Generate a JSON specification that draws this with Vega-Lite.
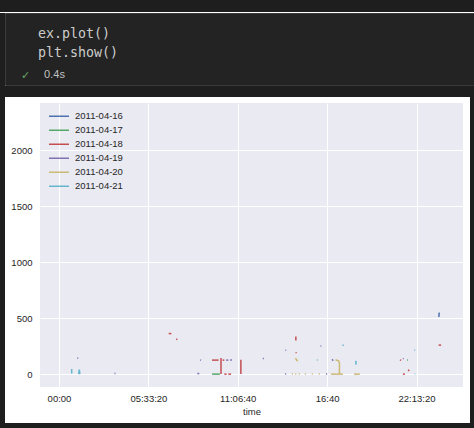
{
  "$schema": "https://vega.github.io/schema/vega-lite/v6.json",
  "background": "white",
  "padding": 0,
  "spacing": 0,
  "bounds": "full",
  "config": {
    "view": {"stroke": null},
    "concat": {"spacing": 0},
    "font": "Liberation Sans"
  },
  "datasets": {
    "series": [
      {"date": "2011-04-21", "seg": 1, "t": 2840, "v": 5},
      {"date": "2011-04-21", "seg": 1, "t": 2840, "v": 45},
      {"date": "2011-04-21", "seg": 2, "t": 4400, "v": 0},
      {"date": "2011-04-21", "seg": 2, "t": 4540, "v": 40},
      {"date": "2011-04-21", "seg": 2, "t": 4680, "v": 0},
      {"date": "2011-04-19", "seg": 3, "t": 4100, "v": 145},
      {"date": "2011-04-19", "seg": 3, "t": 4300, "v": 140},
      {"date": "2011-04-19", "seg": 4, "t": 12400, "v": 5},
      {"date": "2011-04-19", "seg": 4, "t": 12650, "v": 5},
      {"date": "2011-04-18", "seg": 5, "t": 24550, "v": 362},
      {"date": "2011-04-18", "seg": 5, "t": 25150, "v": 362},
      {"date": "2011-04-18", "seg": 6, "t": 26250, "v": 316},
      {"date": "2011-04-18", "seg": 6, "t": 26450, "v": 306},
      {"date": "2011-04-19", "seg": 7, "t": 30950, "v": 5},
      {"date": "2011-04-19", "seg": 7, "t": 31400, "v": 5},
      {"date": "2011-04-19", "seg": 8, "t": 31600, "v": 127},
      {"date": "2011-04-19", "seg": 8, "t": 31800, "v": 124},
      {"date": "2011-04-18", "seg": 9, "t": 34250, "v": 125},
      {"date": "2011-04-18", "seg": 9, "t": 35700, "v": 125},
      {"date": "2011-04-18", "seg": 10, "t": 36250, "v": 0},
      {"date": "2011-04-18", "seg": 10, "t": 36250, "v": 143},
      {"date": "2011-04-17", "seg": 11, "t": 34250, "v": 0},
      {"date": "2011-04-17", "seg": 11, "t": 36000, "v": 0},
      {"date": "2011-04-18", "seg": 12, "t": 36600, "v": 125},
      {"date": "2011-04-18", "seg": 12, "t": 37000, "v": 125},
      {"date": "2011-04-19", "seg": 13, "t": 37400, "v": 125},
      {"date": "2011-04-19", "seg": 13, "t": 37900, "v": 125},
      {"date": "2011-04-19", "seg": 14, "t": 38300, "v": 125},
      {"date": "2011-04-19", "seg": 14, "t": 38700, "v": 125},
      {"date": "2011-04-18", "seg": 15, "t": 37000, "v": 0},
      {"date": "2011-04-18", "seg": 15, "t": 37500, "v": 0},
      {"date": "2011-04-18", "seg": 16, "t": 37900, "v": 0},
      {"date": "2011-04-18", "seg": 16, "t": 38500, "v": 0},
      {"date": "2011-04-18", "seg": 17, "t": 40700, "v": 0},
      {"date": "2011-04-18", "seg": 17, "t": 40700, "v": 128},
      {"date": "2011-04-19", "seg": 18, "t": 45600, "v": 140},
      {"date": "2011-04-19", "seg": 18, "t": 45850, "v": 140},
      {"date": "2011-04-19", "seg": 19, "t": 50650, "v": 214},
      {"date": "2011-04-19", "seg": 19, "t": 50850, "v": 214},
      {"date": "2011-04-18", "seg": 20, "t": 53000, "v": 300},
      {"date": "2011-04-18", "seg": 20, "t": 53000, "v": 335},
      {"date": "2011-04-18", "seg": 21, "t": 52950, "v": 195},
      {"date": "2011-04-18", "seg": 21, "t": 53150, "v": 190},
      {"date": "2011-04-20", "seg": 22, "t": 52900, "v": 142},
      {"date": "2011-04-20", "seg": 22, "t": 53400, "v": 115},
      {"date": "2011-04-21", "seg": 23, "t": 57700, "v": 125},
      {"date": "2011-04-21", "seg": 23, "t": 57900, "v": 125},
      {"date": "2011-04-19", "seg": 24, "t": 58500, "v": 250},
      {"date": "2011-04-19", "seg": 24, "t": 58700, "v": 250},
      {"date": "2011-04-19", "seg": 25, "t": 61100, "v": 132},
      {"date": "2011-04-19", "seg": 25, "t": 61350, "v": 120},
      {"date": "2011-04-21", "seg": 26, "t": 63450, "v": 262},
      {"date": "2011-04-21", "seg": 26, "t": 63700, "v": 255},
      {"date": "2011-04-20", "seg": 27, "t": 61890, "v": 128},
      {"date": "2011-04-20", "seg": 27, "t": 62560, "v": 119},
      {"date": "2011-04-20", "seg": 27, "t": 62750, "v": 100},
      {"date": "2011-04-20", "seg": 27, "t": 62750, "v": 0},
      {"date": "2011-04-20", "seg": 28, "t": 60850, "v": 0},
      {"date": "2011-04-20", "seg": 28, "t": 63530, "v": 0},
      {"date": "2011-04-21", "seg": 29, "t": 66400, "v": 118},
      {"date": "2011-04-21", "seg": 29, "t": 66480, "v": 85},
      {"date": "2011-04-20", "seg": 30, "t": 66000, "v": 0},
      {"date": "2011-04-20", "seg": 30, "t": 67300, "v": 0},
      {"date": "2011-04-19", "seg": 31, "t": 50600, "v": 0},
      {"date": "2011-04-19", "seg": 31, "t": 50850, "v": 0},
      {"date": "2011-04-20", "seg": 32, "t": 52100, "v": 0},
      {"date": "2011-04-20", "seg": 32, "t": 52350, "v": 0},
      {"date": "2011-04-20", "seg": 33, "t": 52850, "v": 0},
      {"date": "2011-04-20", "seg": 33, "t": 53100, "v": 0},
      {"date": "2011-04-20", "seg": 34, "t": 53650, "v": 0},
      {"date": "2011-04-20", "seg": 34, "t": 53900, "v": 0},
      {"date": "2011-04-20", "seg": 35, "t": 55000, "v": 0},
      {"date": "2011-04-20", "seg": 35, "t": 55250, "v": 0},
      {"date": "2011-04-20", "seg": 36, "t": 56550, "v": 0},
      {"date": "2011-04-20", "seg": 36, "t": 56800, "v": 0},
      {"date": "2011-04-20", "seg": 37, "t": 58100, "v": 0},
      {"date": "2011-04-20", "seg": 37, "t": 58350, "v": 0},
      {"date": "2011-04-19", "seg": 38, "t": 59750, "v": 0},
      {"date": "2011-04-19", "seg": 38, "t": 60000, "v": 0},
      {"date": "2011-04-18", "seg": 39, "t": 76300, "v": 128},
      {"date": "2011-04-18", "seg": 39, "t": 76550, "v": 122},
      {"date": "2011-04-19", "seg": 40, "t": 76950, "v": 140},
      {"date": "2011-04-19", "seg": 40, "t": 77100, "v": 135},
      {"date": "2011-04-17", "seg": 41, "t": 77900, "v": 125},
      {"date": "2011-04-17", "seg": 41, "t": 78100, "v": 125},
      {"date": "2011-04-21", "seg": 42, "t": 79550, "v": 216},
      {"date": "2011-04-21", "seg": 42, "t": 79700, "v": 212},
      {"date": "2011-04-18", "seg": 43, "t": 78100, "v": 38},
      {"date": "2011-04-18", "seg": 43, "t": 78400, "v": 30},
      {"date": "2011-04-18", "seg": 44, "t": 76950, "v": 0},
      {"date": "2011-04-18", "seg": 44, "t": 77400, "v": 0},
      {"date": "2011-04-21", "seg": 45, "t": 79600, "v": 0},
      {"date": "2011-04-21", "seg": 45, "t": 79700, "v": 3},
      {"date": "2011-04-16", "seg": 46, "t": 85000, "v": 510},
      {"date": "2011-04-16", "seg": 46, "t": 85060, "v": 548},
      {"date": "2011-04-16", "seg": 46, "t": 85150, "v": 540},
      {"date": "2011-04-18", "seg": 47, "t": 84950, "v": 259},
      {"date": "2011-04-18", "seg": 47, "t": 85500, "v": 259}
    ]
  },
  "vconcat": [
    {"width": 474, "height": 12, "view": {"fill": "#1e1e1e", "stroke": null}, "data": {"values": []}, "mark": "point", "encoding": {}},
    {
      "spacing": 0, "bounds": "flush",
      "title": {
        "text": "\u2713", "anchor": "start", "frame": "group", "orient": "top",
        "baseline": "top", "offset": 0, "dx": 21, "dy": 68,
        "font": "DejaVu Sans", "fontSize": 11, "fontWeight": "normal", "color": "#6aa36a"
      },
      "hconcat": [
        {"width": 5, "height": 73, "view": {"fill": "#1e1e1e", "stroke": null}, "data": {"values": []}, "mark": "point", "encoding": {}},
        {
          "width": 469, "height": 72,
          "view": {"fill": "#232323", "stroke": "#3a3a3a", "strokeWidth": 1},
          "data": {"values": []}, "mark": "point", "encoding": {},
          "title": {
            "text": ["ex.plot()", "plt.show()"],
            "subtitle": "\u200b\u00a0\u00a00.4s",
            "anchor": "start", "frame": "group", "orient": "top",
            "baseline": "top", "offset": 0, "dx": 33, "dy": 67,
            "font": "DejaVu Sans Mono", "fontSize": 13.3, "fontWeight": "normal",
            "color": "#cccccc", "lineHeight": 19,
            "subtitleFont": "Liberation Sans", "subtitleFontSize": 11,
            "subtitleColor": "#c0c0c0", "subtitlePadding": 10
          }
        }
      ]
    },
    {"width": 474, "height": 11, "view": {"fill": "#1e1e1e", "stroke": null}, "data": {"values": []}, "mark": "point", "encoding": {}},
    {
      "spacing": 0, "bounds": "flush", "columns": 5,
      "align": {"row": "each", "column": "each"},
      "concat": [
        {"width": 5, "height": 6, "view": {"fill": "#1e1e1e", "stroke": null}, "data": {"values": []}, "mark": "point", "encoding": {}},
        {"width": 35, "height": 6, "data": {"values": []}, "mark": "point", "encoding": {}},
        {"width": 423, "height": 6, "data": {"values": []}, "mark": "point", "encoding": {}},
        {"width": 7, "height": 6, "data": {"values": []}, "mark": "point", "encoding": {}},
        {"width": 4, "height": 6, "view": {"fill": "#1e1e1e", "stroke": null}, "data": {"values": []}, "mark": "point", "encoding": {}},
        {"width": 5, "height": 284, "view": {"fill": "#1e1e1e", "stroke": null}, "data": {"values": []}, "mark": "point", "encoding": {}},
        {"width": 35, "height": 284, "data": {"values": []}, "mark": "point", "encoding": {}},
        {
          "width": 423, "height": 284,
          "view": {"fill": "#EAEAF2", "stroke": null},
          "data": {"name": "series"},
          "mark": {"type": "line", "strokeWidth": 1.5, "clip": true},
          "encoding": {
            "x": {
              "field": "t", "type": "quantitative",
              "scale": {"domain": [-4250, 90400], "nice": false, "zero": false},
              "axis": {
                "values": [0, 20000, 40000, 60000, 80000],
                "labelExpr": "replace(utcFormat(datum.value * 1000, '%H:%M:%S'), regexp(':00$'), '')",
                "title": "time",
                "grid": true, "gridColor": "#ffffff", "gridWidth": 1,
                "domain": false, "ticks": false,
                "labelPadding": 6, "titlePadding": 3.5,
                "labelFont": "Liberation Sans", "titleFont": "Liberation Sans",
                "labelFontSize": 9.5, "titleFontSize": 9.5, "titleFontWeight": "normal",
                "labelColor": "#262626", "titleColor": "#262626"
              }
            },
            "y": {
              "field": "v", "type": "quantitative",
              "scale": {"domain": [-115, 2420], "nice": false, "zero": false},
              "axis": {
                "values": [0, 500, 1000, 1500, 2000],
                "format": "d",
                "title": null,
                "grid": true, "gridColor": "#ffffff", "gridWidth": 1,
                "domain": false, "ticks": false,
                "labelPadding": 8,
                "labelFont": "Liberation Sans", "labelFontSize": 9.5,
                "labelColor": "#262626"
              }
            },
            "color": {
              "field": "date", "type": "nominal",
              "scale": {
                "domain": ["2011-04-16", "2011-04-17", "2011-04-18", "2011-04-19", "2011-04-20", "2011-04-21"],
                "range": ["#4C72B0", "#55A868", "#C44E52", "#8172B2", "#CCB974", "#64B5CD"]
              },
              "legend": {
                "title": null, "orient": "none", "legendX": 48, "legendY": 109.2, "padding": 0,
                "symbolType": "stroke", "symbolSize": 400, "symbolStrokeWidth": 1.5,
                "clipHeight": 13.9, "rowPadding": 0,
                "labelFont": "Liberation Sans", "labelFontSize": 9.5, "labelColor": "#262626",
                "labelOffset": 5
              }
            },
            "detail": {"field": "seg", "type": "nominal"}
          }
        },
        {"width": 7, "height": 284, "data": {"values": []}, "mark": "point", "encoding": {}},
        {"width": 4, "height": 284, "view": {"fill": "#1e1e1e", "stroke": null}, "data": {"values": []}, "mark": "point", "encoding": {}},
        {"width": 5, "height": 36, "view": {"fill": "#1e1e1e", "stroke": null}, "data": {"values": []}, "mark": "point", "encoding": {}},
        {"width": 35, "height": 36, "data": {"values": []}, "mark": "point", "encoding": {}},
        {"width": 423, "height": 36, "data": {"values": []}, "mark": "point", "encoding": {}},
        {"width": 7, "height": 36, "data": {"values": []}, "mark": "point", "encoding": {}},
        {"width": 4, "height": 36, "view": {"fill": "#1e1e1e", "stroke": null}, "data": {"values": []}, "mark": "point", "encoding": {}}
      ]
    },
    {"width": 474, "height": 6, "view": {"fill": "#1e1e1e", "stroke": null}, "data": {"values": []}, "mark": "point", "encoding": {}}
  ]
}
